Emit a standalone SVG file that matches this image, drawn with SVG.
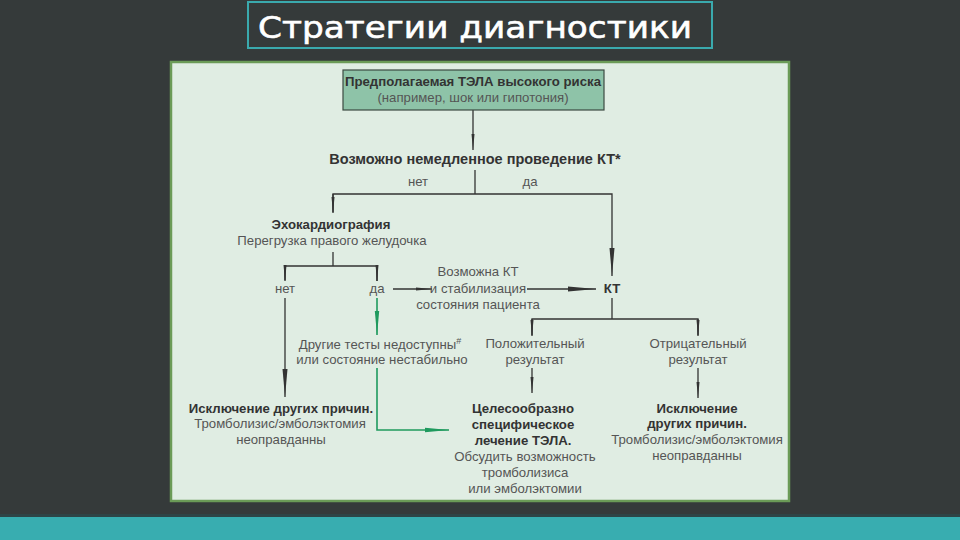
<svg xmlns="http://www.w3.org/2000/svg" width="960" height="540" viewBox="0 0 960 540">
<defs>
<style>
.b{font-family:"Liberation Sans",Arial,sans-serif;font-size:13.2px;font-weight:bold;fill:#333;text-anchor:middle}
.r{font-family:"Liberation Sans",Arial,sans-serif;font-size:13.2px;fill:#555;text-anchor:middle}
.ln{stroke:#333;stroke-width:1.3;fill:none}
.gl{stroke:#1f9a5e;stroke-width:1.6;fill:none}
</style>
<marker id="ah" viewBox="0 0 16 6" refX="16" refY="3" markerWidth="16" markerHeight="6" markerUnits="userSpaceOnUse" orient="auto">
<path d="M0,1.5 L16,3 L0,4.5 Z" fill="#333"/>
</marker>
<marker id="ahl" viewBox="0 0 28 6" refX="28" refY="3" markerWidth="28" markerHeight="6" markerUnits="userSpaceOnUse" orient="auto">
<path d="M0,0.5 L28,3 L0,5.5 Z" fill="#333"/>
</marker>
<marker id="ahg" viewBox="0 0 24 6" refX="24" refY="3" markerWidth="24" markerHeight="6" markerUnits="userSpaceOnUse" orient="auto">
<path d="M0,0.8 L24,3 L0,5.2 Z" fill="#1f9a5e"/>
</marker>
</defs>
<rect width="960" height="540" fill="#353a3a"/>
<rect x="0" y="514" width="960" height="3" fill="#2e4446"/>
<rect x="0" y="517" width="960" height="23" fill="#38adb0"/>
<g id="title">
<rect x="248" y="2" width="464" height="46" fill="#353a3a" stroke="#3aa9ad" stroke-width="2"/>
<text x="258" y="38" font-family="'DejaVu Sans',sans-serif" font-size="31" fill="#fff" stroke="#fff" stroke-width="0.6" textLength="434" lengthAdjust="spacingAndGlyphs">Стратегии диагностики</text>
</g>
<rect x="171" y="62" width="618" height="439" fill="#e0ede3" stroke="#6b9b57" stroke-width="2.5"/>
<g id="connectors">
<line class="ln" x1="473" y1="110" x2="473" y2="150" marker-end="url(#ah)"/>
<line class="ln" x1="475" y1="170" x2="475" y2="194"/>
<polyline class="ln" points="333,212 333,194 612,194 612,276" marker-end="url(#ahl)"/>
<line class="ln" x1="333" y1="194" x2="333" y2="213" marker-end="url(#ah)"/>
<line class="ln" x1="333" y1="252" x2="333" y2="266"/>
<polyline class="ln" points="285,280 285,266 377,266 377,281"/>
<line class="ln" x1="285" y1="266" x2="285" y2="281" marker-end="url(#ah)"/>
<line class="ln" x1="377" y1="266" x2="377" y2="281" marker-end="url(#ah)"/>
<line class="ln" x1="393" y1="289" x2="432" y2="289" marker-end="url(#ah)"/>
<line class="ln" x1="527" y1="289" x2="596" y2="289" marker-end="url(#ahl)"/>
<line class="ln" x1="612" y1="298" x2="612" y2="319"/>
<polyline class="ln" points="532,335 532,319 698,319 698,335"/>
<line class="ln" x1="532" y1="319" x2="532" y2="336" marker-end="url(#ah)"/>
<line class="ln" x1="698" y1="319" x2="698" y2="336" marker-end="url(#ah)"/>
<line class="ln" x1="532" y1="368" x2="532" y2="393" marker-end="url(#ah)"/>
<line class="ln" x1="698" y1="368" x2="698" y2="398" marker-end="url(#ah)"/>
<line class="ln" x1="285" y1="298" x2="285" y2="397" marker-end="url(#ahl)"/>
<line class="gl" x1="377" y1="298" x2="377" y2="335" marker-end="url(#ahg)"/>
<polyline class="gl" points="377,368 377,430 449,430" marker-end="url(#ahg)"/>
</g>
<g id="n-start">
<rect x="343" y="70" width="261" height="40" fill="#8ec3a8" stroke="#3b4a42" stroke-width="1.2"/>
<text class="b" x="473" y="86">Предполагаемая ТЭЛА высокого риска</text>
<text class="r" x="473" y="102">(например, шок или гипотония)</text>
</g>
<g id="n-ct-now">
<text class="b" x="475" y="164" style="font-size:14.5px">Возможно немедленное проведение КТ*</text>
<text class="r" x="418" y="186">нет</text>
<text class="r" x="530" y="186">да</text>
</g>
<g id="n-echo">
<text class="b" x="331" y="229">Эхокардиография</text>
<text class="r" x="332" y="245">Перегрузка правого желудочка</text>
</g>
<g id="n-echo-no"><text class="r" x="285" y="293">нет</text></g>
<g id="n-echo-yes"><text class="r" x="377" y="293">да</text></g>
<g id="n-stab">
<text class="r" x="478" y="276">Возможна КТ</text>
<text class="r" x="478" y="293">и стабилизация</text>
<text class="r" x="478" y="309">состояния пациента</text>
</g>
<g id="n-ct"><text class="b" x="612" y="293">КТ</text></g>
<g id="n-pos">
<text class="r" x="535" y="348">Положительный</text>
<text class="r" x="535" y="364">результат</text>
</g>
<g id="n-neg">
<text class="r" x="698" y="348">Отрицательный</text>
<text class="r" x="698" y="364">результат</text>
</g>
<g id="n-other">
<text class="r" x="380" y="349">Другие тесты недоступны<tspan font-size="9" dy="-5">#</tspan></text>
<text class="r" x="382" y="364">или состояние нестабильно</text>
</g>
<g id="n-excl-left">
<text class="b" x="281" y="413">Исключение других причин.</text>
<text class="r" x="280" y="428">Тромболизис/эмболэктомия</text>
<text class="r" x="281" y="444">неоправданны</text>
</g>
<g id="n-treat">
<text class="b" x="523" y="413">Целесообразно</text>
<text class="b" x="523" y="429">специфическое</text>
<text class="b" x="523" y="445">лечение ТЭЛА.</text>
<text class="r" x="525" y="461">Обсудить возможность</text>
<text class="r" x="525" y="477">тромболизиса</text>
<text class="r" x="525" y="493">или эмболэктомии</text>
</g>
<g id="n-excl-right">
<text class="b" x="697" y="413">Исключение</text>
<text class="b" x="697" y="428">других причин.</text>
<text class="r" x="697" y="444">Тромболизис/эмболэктомия</text>
<text class="r" x="697" y="460">неоправданны</text>
</g>
</svg>
